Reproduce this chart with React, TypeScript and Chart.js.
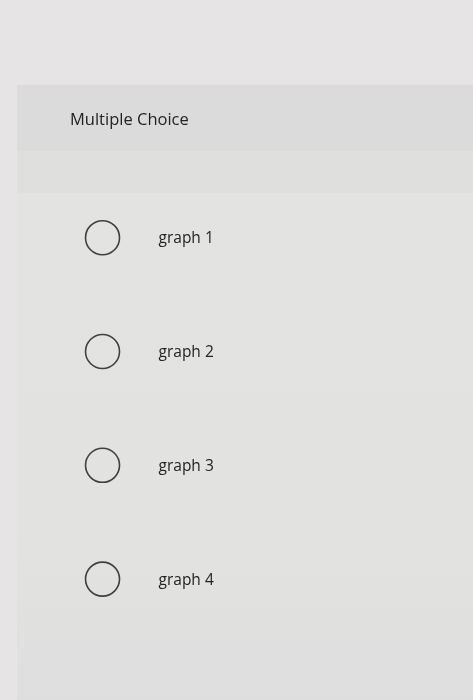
import React, { useEffect, useRef } from "react";
import Chart from "chart.js/auto";
import type { ChartConfiguration, Plugin } from "chart.js";

const TITLE = "Multiple Choice";
const CHOICES = ["graph 1", "graph 2", "graph 3", "graph 4"];
// every choice sits in the same radio-button column
const RADIO_COLUMN = 0;

const FONT = "'Open Sans', Lato, sans-serif";
const TEXT_COLOR = "#232323";
const RING_COLOR = "#404040";

const choiceLabels: Plugin = {
  id: "choiceLabels",
  afterDatasetsDraw(chart) {
    const ctx = chart.ctx;
    const meta = chart.getDatasetMeta(0);
    ctx.save();
    ctx.fillStyle = TEXT_COLOR;
    ctx.font = `15.5px ${FONT}`;
    ctx.textAlign = "left";
    ctx.textBaseline = "middle";
    meta.data.forEach((point: any, index) => {
      ctx.fillText(CHOICES[index], point.x + 56, point.y + 1);
    });
    ctx.restore();
  },
};

const ChoiceChart: React.FC = () => {
  const canvasRef = useRef<HTMLCanvasElement | null>(null);

  useEffect(() => {
    const canvas = canvasRef.current;
    if (!canvas) return;

    const config: ChartConfiguration = {
      type: "scatter",
      data: {
        labels: CHOICES,
        datasets: [
          {
            label: "choices",
            data: CHOICES.map((choice) => ({ x: RADIO_COLUMN, y: choice })) as any,
            pointStyle: "circle",
            pointRadius: 17,
            pointHoverRadius: 17,
            borderWidth: 1.6,
            borderColor: RING_COLOR,
            backgroundColor: "rgba(0,0,0,0)",
          },
        ],
      },
      options: {
        responsive: true,
        maintainAspectRatio: false,
        animation: false,
        events: [],
        layout: {
          padding: { top: 0, right: 0, bottom: 64, left: 70 },
        },
        plugins: {
          legend: { display: false },
          tooltip: { enabled: false },
          title: {
            display: true,
            text: TITLE,
            align: "start",
            color: TEXT_COLOR,
            font: { family: FONT, size: 16.5, weight: "normal" },
            padding: { top: 110, bottom: 51 },
          },
        },
        scales: {
          x: { type: "linear", min: -1.1, max: 11.9, display: false },
          y: { type: "category", labels: CHOICES, offset: true, display: false },
        },
      } as any,
      plugins: [choiceLabels],
    };

    const chart = new Chart(canvas, config);
    return () => {
      chart.destroy();
    };
  }, []);

  return <canvas ref={canvasRef} />;
};

export default function App() {
  useEffect(() => {
    document.body.style.margin = "0";
  }, []);

  return (
    <div
      style={{
        position: "relative",
        width: 473,
        height: 700,
        background: "#e6e4e4",
        overflow: "hidden",
      }}
    >
      <div
        style={{
          position: "absolute",
          left: 17,
          top: 85,
          right: 0,
          bottom: 0,
          background:
            "linear-gradient(#dcdbdb 0px, #dcdbdb 66px, #dfdfde 66px, #dfdfde 108px, #e3e3e2 108px, #e2e2e1 480px, #dedede 100%)",
        }}
      />
      <div style={{ position: "absolute", inset: 0 }}>
        <ChoiceChart />
      </div>
    </div>
  );
}
